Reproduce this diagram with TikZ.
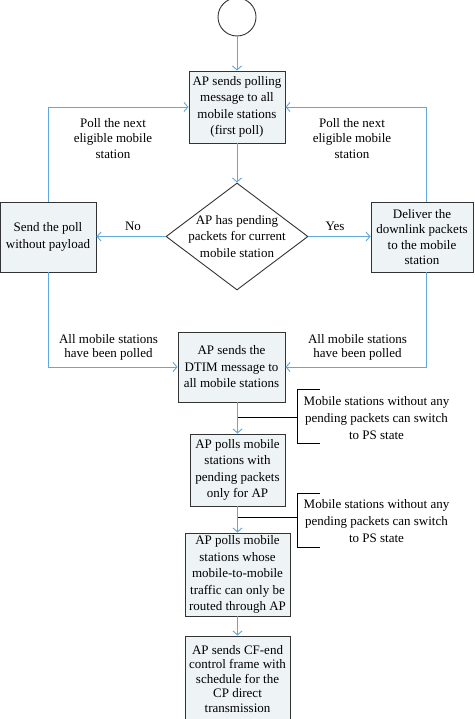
\documentclass[tikz,border=0pt]{standalone}
\usepackage{fontspec}
\setmainfont{Liberation Serif}
\usetikzlibrary{shapes.geometric,arrows.meta}
\definecolor{flow}{HTML}{62A8DD}
\definecolor{boxfill}{HTML}{EEF3F6}
\definecolor{boxline}{HTML}{333333}
\begin{document}
\begin{tikzpicture}[x=1pt,y=-1pt,
  font=\fontsize{13}{16.5}\selectfont,
  proc/.style={draw=boxline, line width=0.9pt, fill=boxfill, align=center, inner sep=0pt},
  flowline/.style={draw=flow, line width=0.9pt},
  flowarrow/.style={flowline, -{Straight Barb[length=4pt,width=9pt]}},
  lbl/.style={align=center, inner sep=0pt, font=\fontsize{13}{15.5}\selectfont},
  brk/.style={draw=black, line width=0.8pt}]
\useasboundingbox (0,0) rectangle (474,719);

\node[circle, draw=boxline, line width=0.9pt, fill=white, minimum size=38pt, inner sep=0pt] (start) at (237,17) {};
\node[proc, minimum width=96pt, minimum height=72pt] (b1) at (237,107) {AP sends polling\\message to all\\mobile stations\\(first poll)};
\node[diamond, draw=boxline, line width=0.9pt, fill=white, minimum width=142pt, minimum height=107pt, inner sep=0pt] (dec) at (237,236.5) {};
\node[align=center, inner sep=0pt] (dectext) at (dec.center) {AP has pending\\packets for current\\mobile station};
\node[proc, minimum width=96pt, minimum height=70pt] (L) at (48,237) {Send the poll\\without payload};
\node[proc, minimum width=102pt, minimum height=70pt, font=\fontsize{13}{15.5}\selectfont] (R) at (422,237) {Deliver the\\downlink packets\\to the mobile\\station};
\node[proc, minimum width=107pt, minimum height=70pt] (dtim) at (231.5,367) {AP sends the\\DTIM message to\\all mobile stations};
\node[proc, minimum width=95pt, minimum height=72pt] (b3) at (237.5,470) {AP polls mobile\\stations with\\pending packets\\only for AP};
\node[proc, minimum width=105pt, minimum height=83pt] (b4) at (237.5,574.5) {AP polls mobile\\stations whose\\mobile-to-mobile\\traffic can only be\\routed through AP};
\node[proc, minimum width=105pt, minimum height=86pt, font=\fontsize{13}{14.5}\selectfont] (b5) at (237.5,679) {AP sends CF-end\\control frame with\\schedule for the\\CP direct\\transmission};

\node[lbl] (nolbl) at (133,226) {No};
\node[lbl] (yeslbl) at (335,226) {Yes};
\node[lbl] (pollL) at (113,138.5) {Poll the next\\eligible mobile\\station};
\node[lbl] (pollR) at (352,138.5) {Poll the next\\eligible mobile\\station};
\node[lbl, font=\fontsize{13}{14}\selectfont] (allL) at (108.5,347) {All mobile stations\\have been polled};
\node[lbl, font=\fontsize{13}{14}\selectfont] (allR) at (357.5,347) {All mobile stations\\have been polled};
\node[lbl, font=\fontsize{13}{17}\selectfont] (ps1) at (376.5,418) {Mobile stations without any\\pending packets can switch\\to PS state};
\node[lbl, font=\fontsize{13}{17}\selectfont] (ps2) at (376.5,521) {Mobile stations without any\\pending packets can switch\\to PS state};

\draw[flowarrow] (start) -- (b1);
\draw[flowarrow] (b1) -- (dec);
\draw[flowarrow] (dec.west) -- (dec.west -| L.east);
\draw[flowarrow] (dec.east) -- (dec.east -| R.west);
\draw[flowarrow] (L.north) |- (b1.west);
\draw[flowarrow] ([xshift=4pt]R.north) |- (b1.east);
\draw[flowarrow] (L.south) |- (dtim.west);
\draw[flowarrow] ([xshift=4pt]R.south) |- (dtim.east);
\draw[flowarrow] (b3.north |- dtim.south) -- (b3.north);
\draw[flowarrow] (b3) -- (b4);
\draw[flowarrow] (b4) -- (b5);

\coordinate (s1) at (237.5,417);
\coordinate (s2) at (237.5,517);
\draw[brk] (s1) -- (297,417);
\draw[brk] (320,389) -- (297,389) -- (297,443) -- (320,443);
\draw[brk] (s2) -- (297,517);
\draw[brk] (320,493) -- (297,493) -- (297,547) -- (320,547);
\end{tikzpicture}
\end{document}
